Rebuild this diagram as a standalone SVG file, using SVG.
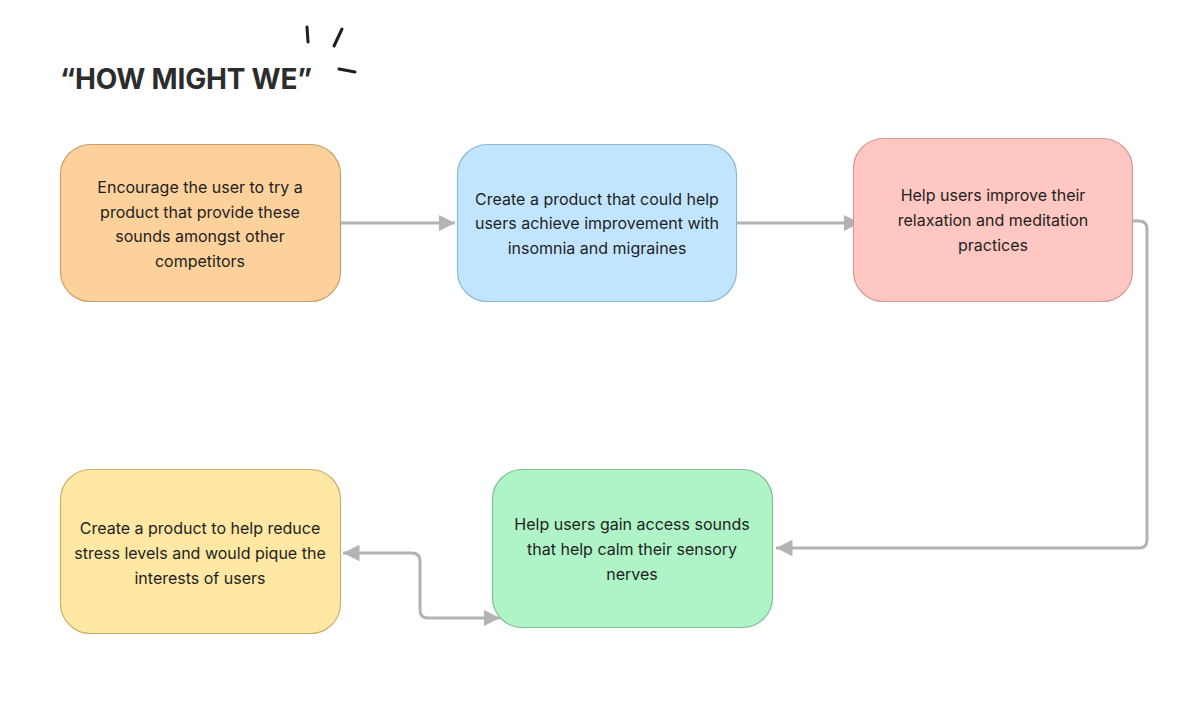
<svg xmlns="http://www.w3.org/2000/svg" width="1200" height="701" viewBox="0 0 1200 701">
<defs>
<style>
.box{stroke-width:1.2}
.t{font-family:Inter,"Noto Sans",sans-serif;font-size:16px;fill:#1e1e1e;text-anchor:middle}
.c{fill:none;stroke:#b3b3b3;stroke-width:3;stroke-linejoin:round}
.spark{stroke:#1e1e1e;stroke-width:3;stroke-linecap:round;fill:none}
</style>
<marker id="ah" viewBox="0 0 10 10" refX="10" refY="5" markerWidth="5.5" markerHeight="5.5" markerUnits="strokeWidth" orient="auto-start-reverse">
<path d="M0,0 L10,5 L0,10 Z" fill="#b3b3b3"/>
</marker>
</defs>
<rect width="1200" height="701" fill="#ffffff"/>
<g id="title">
<text x="60" y="89" font-family="Inter,'Noto Sans',sans-serif" font-size="28" font-weight="700" fill="#2c2c2c" letter-spacing="-0.2">“HOW MIGHT WE”</text>
<path class="spark" d="M307,27 L308,42 M342,29 L334,46 M339,69 L355,72"/>
</g>
<g id="connectors">
<path class="c" d="M341,223 L455,223" marker-end="url(#ah)"/>
<path class="c" d="M737,223 L860,223" marker-end="url(#ah)"/>
<path class="c" d="M1133,221 L1139,221 Q1147,221 1147,229 L1147,540 Q1147,548 1139,548 L776,548" marker-end="url(#ah)"/>
<path class="c" d="M343,553 L412,553 Q420,553 420,561 L420,610 Q420,618 428,618 L500,618" marker-start="url(#ah)" marker-end="url(#ah)"/>
</g>
<g id="node1">
<rect class="box" x="60.5" y="144.5" width="280" height="157" rx="30" fill="#fcd19c" stroke="#c9a06b"/>
<text class="t" x="200" y="193">Encourage the user to try a</text>
<text class="t" x="200" y="218">product that provide these</text>
<text class="t" x="200" y="242">sounds amongst other</text>
<text class="t" x="200" y="267">competitors</text>
</g>
<g id="node2">
<rect class="box" x="457.5" y="144.5" width="279" height="157" rx="30" fill="#c2e5ff" stroke="#8db6d4"/>
<text class="t" x="597" y="205">Create a product that could help</text>
<text class="t" x="597" y="229">users achieve improvement with</text>
<text class="t" x="597" y="254">insomnia and migraines</text>
</g>
<g id="node3">
<rect class="box" x="853.5" y="138.5" width="279" height="163" rx="30" fill="#ffc7c2" stroke="#d39a95"/>
<text class="t" x="993" y="201">Help users improve their</text>
<text class="t" x="993" y="226">relaxation and meditation</text>
<text class="t" x="993" y="251">practices</text>
</g>
<g id="node4">
<rect class="box" x="60.5" y="469.5" width="280" height="164" rx="30" fill="#ffe8a3" stroke="#c9b06a"/>
<text class="t" x="200" y="534">Create a product to help reduce</text>
<text class="t" x="200" y="559">stress levels and would pique the</text>
<text class="t" x="200" y="584">interests of users</text>
</g>
<g id="node5">
<rect class="box" x="492.5" y="469.5" width="280" height="158" rx="30" fill="#aff4c6" stroke="#7fbf94"/>
<text class="t" x="632" y="530">Help users gain access sounds</text>
<text class="t" x="632" y="555">that help calm their sensory</text>
<text class="t" x="632" y="580">nerves</text>
</g>
</svg>
